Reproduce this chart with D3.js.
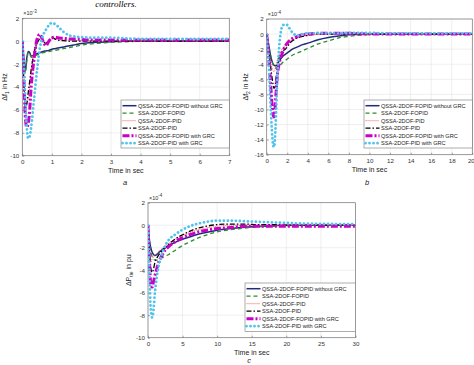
<!DOCTYPE html>
<html><head><meta charset="utf-8">
<script src="https://cdn.jsdelivr.net/npm/d3@7"></script>
<style>body{margin:0;background:#fff}svg{display:block}</style>
</head><body>
<svg id="chart" width="474" height="365"></svg>
<script>
const seriesNames = ["QSSA-2DOF-FOPID without GRC","SSA-2DOF-FOPID","QSSA-2DOF-PID","SSA-2DOF-PID","QSSA-2DOF-FOPID with GRC","SSA-2DOF-PID with GRC"];

// Panel a: Δf1 (×10^-3)
const timeA = [0,0.05,0.1,0.15,0.2,0.25,0.3,0.4,0.5,0.6,0.7,0.8,0.9,1.0,1.1,1.2,1.4,1.6,1.8,2.0,2.5,3,3.5,4,5,6,7];
const a_qssaFopid   = [0,-1.5,-2.6,-1.5,-0.9,-1.0,-1.3,-1.2,-1.1,-1.0,-0.9,-0.85,-0.8,-0.7,-0.65,-0.6,-0.5,-0.4,-0.3,-0.2,-0.1,-0.05,0,0,0,0,0];
const a_ssaFopid    = [0,-1.8,-2.8,-1.8,-1.0,-1.1,-1.4,-1.3,-1.2,-1.1,-1.0,-0.95,-0.9,-0.85,-0.8,-0.75,-0.65,-0.55,-0.45,-0.35,-0.2,-0.1,-0.05,0,0,0,0];
const a_qssaPid     = [0,-3,-5,-5.5,-5,-4,-2.5,-0.8,0,0.3,0,-0.2,0.1,0.2,0.2,0.15,0.1,0.1,0.05,0.05,0,0,0,0,0,0,0];
const a_ssaPid      = [0,-3.5,-6,-5.5,-4.5,-3.5,-2.5,-1.0,-0.2,0.2,0,-0.2,0.1,0.3,0.2,0.1,0.05,0,0,0,0,0,0,0,0,0,0];
const a_qssaFopidG  = [0,-3,-6.5,-7.5,-7.2,-6,-4,-1.5,0.2,0.6,0,-0.4,0,0.3,0.35,0.3,0.25,0.2,0.2,0.15,0.1,0.1,0.1,0.1,0.1,0.1,0.1];
const a_ssaPidG     = [0,-2,-5,-7.5,-8.5,-8.3,-7.5,-5,-2.5,-0.5,0.5,1.0,1.4,1.6,1.5,1.3,0.8,0.5,0.4,0.35,0.3,0.3,0.25,0.2,0.2,0.2,0.2];

// Panel b: Δf2 (×10^-4)
const timeB = [0,0.2,0.4,0.6,0.7,0.8,0.9,1.0,1.2,1.4,1.6,1.8,2.0,2.2,2.5,3,3.5,4,5,6,7,8,9,10,12,14,16,18,20];
const b_qssaFopid   = [0,-1.5,-3,-3.9,-4.1,-4.2,-4.2,-4.1,-3.6,-3.2,-2.9,-2.7,-2.5,-2.3,-2.0,-1.7,-1.4,-1.2,-0.75,-0.45,-0.25,-0.1,-0.05,0,0,0,0,0,0];
const b_ssaFopid    = [0,-1.5,-3,-4,-4.3,-4.5,-4.5,-4.5,-4.3,-4,-3.7,-3.5,-3.3,-3.1,-2.8,-2.5,-2.2,-1.9,-1.3,-0.9,-0.5,-0.3,-0.15,-0.05,0,0,0,0,0];
const b_qssaPid     = [0,-2,-3.8,-4.8,-5,-4.8,-4.2,-3.6,-2.8,-2.2,-1.8,-1.5,-1.2,-1.0,-0.8,-0.5,-0.3,-0.2,-0.05,0,0,0,0,0,0,0,0,0,0];
const b_ssaPid      = [0,-2,-4.5,-6.5,-7.2,-7,-6,-4.8,-3.2,-2.5,-2.2,-2.0,-1.7,-1.3,-0.9,-0.5,-0.3,-0.15,0,0,0,0,0,0,0,0,0,0,0];
const b_qssaFopidG  = [0,-3,-7,-10.5,-11,-10,-8,-6,-4,-3,-2.2,-1.6,-1.2,-0.9,-0.6,-0.3,-0.1,0,0.1,0.1,0.1,0.1,0.05,0,0,0,0,0,0];
const b_ssaPidG     = [0,-4,-10,-14.5,-15,-14,-11,-7,-2,0.5,1.2,1.3,1.2,0.8,0.2,-0.2,0,0.1,0.1,0.1,0.1,0.15,0.15,0.15,0.1,0.1,0.1,0.1,0.1];

// Panel c: ΔPtie (×10^-4)
const timeC = [0,0.2,0.4,0.6,0.8,1.0,1.3,1.6,2,2.5,3,4,5,6,7,8,10,12,14,16,18,20,22,25,28,30];
const c_qssaFopid   = [0,-1.3,-2.0,-2.4,-2.6,-2.7,-2.6,-2.4,-2.2,-2.0,-1.8,-1.5,-1.25,-1.05,-0.85,-0.7,-0.45,-0.3,-0.18,-0.1,-0.05,0,0,0,0,0];
const c_ssaFopid    = [0,-1.5,-2.3,-2.8,-3.0,-3.1,-3.1,-3.0,-2.9,-2.75,-2.6,-2.2,-1.8,-1.5,-1.2,-0.95,-0.6,-0.4,-0.25,-0.15,-0.1,-0.05,0,0,0,0];
const c_qssaPid     = [0,-2.5,-3.3,-3.0,-2.8,-2.7,-2.5,-2.3,-2.1,-1.8,-1.6,-1.2,-0.9,-0.65,-0.45,-0.3,-0.1,0,0,0,0,0,0,0,0,0];
const c_ssaPid      = [0,-2,-3.8,-4.2,-3.9,-3.3,-2.9,-2.6,-2.3,-2.0,-1.7,-1.2,-0.85,-0.55,-0.3,-0.15,0.05,0.1,0.1,0.05,0.05,0,0,0,0,0];
const c_qssaFopidG  = [0,-3,-5.2,-5.5,-5,-4.5,-3.8,-3.2,-2.7,-2.2,-1.9,-1.45,-1.1,-0.85,-0.65,-0.5,-0.3,-0.2,-0.1,-0.1,-0.1,-0.1,-0.1,-0.1,-0.1,-0.1];
const c_ssaPidG     = [0,-4,-7.5,-8.2,-7.5,-6,-4.5,-3.5,-2.6,-1.8,-1.3,-0.8,-0.4,-0.1,0.1,0.25,0.4,0.4,0.35,0.3,0.25,0.2,0.15,0.12,0.1,0.1];

const xTicksA = [0,1,2,3,4,5,6,7];
const xTicksB = [0,2,4,6,8,10,12,14,16,18,20];
const xTicksC = [0,5,10,15,20,25,30];
const yTicksA = [-10,-8,-6,-4,-2,0,2];
const yTicksB = [-16,-14,-12,-10,-8,-6,-4,-2,0,2];
const yTicksC = [-10,-8,-6,-4,-2,0,2];

const styles = [
  {color:"#1f2b7b", width:1.5, dash:null, cap:"butt"},
  {color:"#2e8b2e", width:1.3, dash:"4,3", cap:"butt"},
  {color:"#ff5a5a", width:1, dash:"1,1", cap:"butt"},
  {color:"#000000", width:1.3, dash:"5,2,1.5,2", cap:"butt"},
  {color:"#c800c8", width:3, dash:"7,2,2,2", cap:"butt"},
  {color:"#4fc3ec", width:2.8, dash:"0.01,4", cap:"round"}
];

const svg = d3.select("#chart");
const FONT = "'Liberation Sans', Arial, sans-serif";

svg.append("text").attr("x",116).attr("y",7).attr("text-anchor","middle")
  .attr("font-family","'Liberation Serif', serif").attr("font-style","italic").attr("font-size",9).text("controllers.");

function panel(cfg){
  const x = d3.scaleLinear().domain(cfg.xd).range([cfg.x0,cfg.x1]);
  const y = d3.scaleLinear().domain(cfg.yd).range([cfg.yb,cfg.yt]);
  const g = svg.append("g");
  g.selectAll(".gx").data(cfg.xt).join("line").attr("x1",d=>x(d)).attr("x2",d=>x(d))
    .attr("y1",cfg.yt).attr("y2",cfg.yb).attr("stroke","#e4e4e4").attr("stroke-width",0.6);
  g.selectAll(".gy").data(cfg.yti).join("line").attr("y1",d=>y(d)).attr("y2",d=>y(d))
    .attr("x1",cfg.x0).attr("x2",cfg.x1).attr("stroke","#e4e4e4").attr("stroke-width",0.6);
  const xa = g.append("g").attr("transform",`translate(0,${cfg.yb})`)
    .call(d3.axisBottom(x).tickValues(cfg.xt).tickSize(-2).tickPadding(4).tickFormat(d3.format("d")));
  const ya = g.append("g").attr("transform",`translate(${cfg.x0},0)`)
    .call(d3.axisLeft(y).tickValues(cfg.yti).tickSize(-2).tickPadding(3).tickFormat(d=>d<0?"-"+Math.abs(d):d));
  [xa,ya].forEach(a=>{
    a.select(".domain").remove();
    a.selectAll("line").attr("stroke","#666").attr("stroke-width",0.6);
    a.selectAll("text").attr("font-family",FONT).attr("font-size",6.2).attr("fill","#333");
  });
  if (cfg.lastEnd) {
    xa.selectAll(".tick text").filter(d=>d===cfg.xd[1]).attr("text-anchor","end").attr("dx",2);
  }
  g.append("rect").attr("x",cfg.x0).attr("y",cfg.yt).attr("width",cfg.x1-cfg.x0).attr("height",cfg.yb-cfg.yt)
    .attr("fill","none").attr("stroke","#777").attr("stroke-width",0.7);
  const clipId = "clip"+cfg.id;
  svg.append("clipPath").attr("id",clipId).append("rect")
    .attr("x",cfg.x0).attr("y",cfg.yt).attr("width",cfg.x1-cfg.x0).attr("height",cfg.yb-cfg.yt);
  const line = d3.line().x(d=>x(d[0])).y(d=>y(d[1])).curve(d3.curveMonotoneX);
  const cg = g.append("g").attr("clip-path",`url(#${clipId})`);
  cfg.series.forEach((vals,i)=>{
    const s = styles[i];
    cg.append("path").datum(cfg.t.map((t,j)=>[t,vals[j]])).attr("d",line)
      .attr("fill","none").attr("stroke",s.color).attr("stroke-width",s.width)
      .attr("stroke-dasharray",s.dash).attr("stroke-linecap",s.cap).attr("stroke-linejoin","round");
  });
  const ex = g.append("text").attr("x",cfg.x0+1).attr("y",cfg.yt-3).attr("font-family",FONT).attr("font-size",5.5).attr("fill","#333");
  ex.append("tspan").text("×10");
  ex.append("tspan").attr("dy",-2.5).attr("font-size",4.5).text(cfg.exp);
  g.append("text").attr("x",(cfg.x0+cfg.x1)/2).attr("y",cfg.yb+17.5).attr("text-anchor","middle")
    .attr("font-family",FONT).attr("font-size",7).attr("fill","#222").text("Time in sec");
  const yl = g.append("text").attr("transform",`translate(${cfg.ylx},${(cfg.yt+cfg.yb)/2}) rotate(-90)`)
    .attr("text-anchor","middle").attr("font-family",FONT).attr("font-size",7).attr("fill","#222");
  yl.append("tspan").text(cfg.ylab[0]);
  yl.append("tspan").attr("dy",2).attr("font-size",5).text(cfg.ylab[1]);
  yl.append("tspan").attr("dy",-2).text(cfg.ylab[2]);
  g.append("text").attr("x",cfg.lx).attr("y",cfg.ly).attr("text-anchor","middle")
    .attr("font-family",FONT).attr("font-style","italic").attr("font-size",7.5).attr("fill","#222").text(cfg.letter);
  const L = cfg.leg;
  g.append("rect").attr("x",L.x).attr("y",L.y).attr("width",L.w).attr("height",L.h)
    .attr("fill","#fff").attr("stroke","#777").attr("stroke-width",0.6);
  seriesNames.forEach((n,i)=>{
    const s = styles[i];
    const ry = L.y+5.7+i*7.5;
    g.append("line").attr("x1",L.x+1.5).attr("x2",L.x+15.5).attr("y1",ry).attr("y2",ry)
      .attr("stroke",s.color).attr("stroke-width",s.width).attr("stroke-dasharray",s.dash).attr("stroke-linecap",s.cap);
    g.append("text").attr("x",L.x+17).attr("y",ry+2).attr("font-family",FONT).attr("font-size",5.6).attr("fill","#222").text(n);
  });
}

panel({id:"a", x0:22.3, x1:229.3, yt:18.3, yb:155.7, xd:[0,7], yd:[-10,2], xt:xTicksA, yti:yTicksA, exp:"-3",
  t:timeA, series:[a_qssaFopid,a_ssaFopid,a_qssaPid,a_ssaPid,a_qssaFopidG,a_ssaPidG],
  ylab:["Δf","1"," in Hz"], ylx:7, letter:"a", lx:125, ly:185, leg:{x:121,y:100,w:108.3,h:48}});
panel({id:"b", x0:266.7, x1:472.3, yt:19, yb:154.7, xd:[0,20], yd:[-16,2], xt:xTicksB, yti:yTicksB, exp:"-4",
  t:timeB, series:[b_qssaFopid,b_ssaFopid,b_qssaPid,b_ssaPid,b_qssaFopidG,b_ssaPidG],
  ylab:["Δf","2"," in Hz"], ylx:248, letter:"b", lx:367, ly:185, leg:{x:364,y:100,w:108.3,h:48}, lastEnd:true});
panel({id:"c", x0:148, x1:355.5, yt:202.7, yb:337.7, xd:[0,30], yd:[-10,2], xt:xTicksC, yti:yTicksC, exp:"-4",
  t:timeC, series:[c_qssaFopid,c_ssaFopid,c_qssaPid,c_ssaPid,c_qssaFopidG,c_ssaPidG],
  ylab:["ΔP","tie"," in pu"], ylx:131, letter:"c", lx:249, ly:363, leg:{x:245,y:283,w:110.5,h:48.5}});
</script>
</body></html>
